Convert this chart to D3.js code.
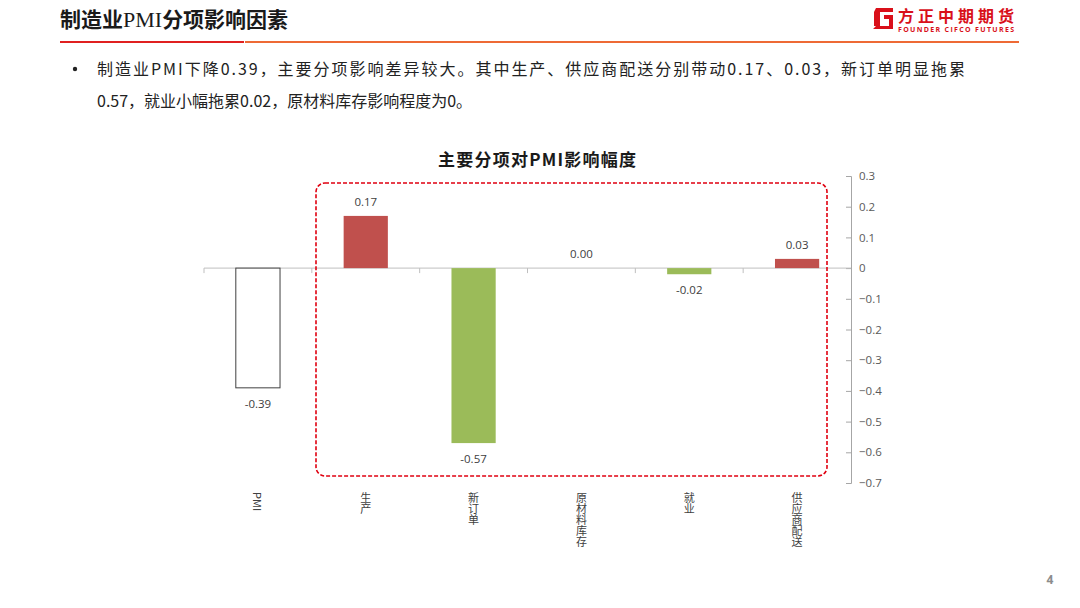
<!DOCTYPE html>
<html><head><meta charset="utf-8">
<script src="https://cdn.jsdelivr.net/npm/d3@7/dist/d3.min.js"></script>
<style>body{margin:0;background:#fff}svg{display:block}</style>
</head><body>
<svg id="c" width="1080" height="608"></svg>
<script>
const categories = ["PMI","生产","新订单","原材料库存","就业","供应商配送"];
const values = [-0.39, 0.17, -0.57, 0.00, -0.02, 0.03];
const valueLabels = ["-0.39","0.17","-0.57","0.00","-0.02","0.03"];
const yTicks = [0.3,0.2,0.1,0,-0.1,-0.2,-0.3,-0.4,-0.5,-0.6,-0.7];
const barKind = ["total","pos","neg","zero","neg","pos"];

const svg = d3.select("#c");
const F = "'Noto Sans CJK SC','Microsoft YaHei',sans-serif";

// header
svg.append("text").attr("x",60).attr("y",27).attr("font-family",F).attr("font-weight","bold")
  .attr("font-size",21).attr("fill","#1a1a1a")
  .call(t=>{t.append("tspan").text("制造业");
            t.append("tspan").attr("font-family","'Liberation Serif',serif").attr("font-weight","normal").attr("font-size",22).text("PMI");
            t.append("tspan").text("分项影响因素");});
svg.append("line").attr("x1",60).attr("x2",244).attr("y1",42).attr("y2",42).attr("stroke","#e02020").attr("stroke-width",2);
svg.append("line").attr("x1",245).attr("x2",1019).attr("y1",42).attr("y2",42).attr("stroke","#ee6a35").attr("stroke-width",2);

// logo
const lg = svg.append("g").attr("fill","#d9101a");
lg.append("path").attr("d","M876,8 L893,8 L893,12 L880,12 L880,26 L874,26 L874,12 Z");
lg.append("path").attr("d","M884,15 L893,15 L893,29 L873,29 L876,26 L889,26 L889,19 L884,19 Z");
lg.append("text").attr("x",898).attr("y",22).attr("font-family",F).attr("font-weight","bold").attr("font-size",16)
  .attr("textLength",116).text("方正中期期货");
lg.append("text").attr("x",898).attr("y",32).attr("font-family","'Open Sans',sans-serif").attr("font-weight","bold").attr("font-size",7)
  .attr("textLength",116).text("FOUNDER CIFCO FUTURES");

// bullet text
svg.append("circle").attr("cx",75).attr("cy",69).attr("r",2.2).attr("fill","#222");
svg.append("text").attr("x",97).attr("y",75).attr("font-family",F).attr("font-size",16).attr("fill","#222")
  .attr("textLength",868).attr("lengthAdjust","spacing")
  .text("制造业PMI下降0.39，主要分项影响差异较大。其中生产、供应商配送分别带动0.17、0.03，新订单明显拖累");
svg.append("text").attr("x",97).attr("y",107).attr("font-family",F).attr("font-size",16).attr("fill","#222")
  .text("0.57，就业小幅拖累0.02，原材料库存影响程度为0。");

// chart title
svg.append("text").attr("x",537).attr("y",166).attr("text-anchor","middle").attr("font-family",F)
  .attr("font-weight","bold").attr("font-size",17).attr("fill","#1a1a1a")
  .attr("textLength",198).text("主要分项对PMI影响幅度");

// scales
const x = d3.scaleBand().domain(categories).range([204,851]).paddingInner(0.59).paddingOuter(0.295);
const y = d3.scaleLinear().domain([-0.7,0.3]).range([483,176]);

// right axis
const ay = svg.append("g").attr("transform","translate(851,0)")
  .call(d3.axisLeft(y).tickValues(yTicks).tickSize(5).tickFormat(d=>d===0?"0":d3.format(".1f")(d)));
ay.select(".domain").attr("stroke","#a6a6a6");
ay.selectAll(".tick line").attr("stroke","#a6a6a6");
ay.selectAll(".tick text").attr("x",8).attr("text-anchor","start").attr("font-family","'Open Sans',sans-serif")
  .attr("font-size",11.5).attr("fill","#595959");

// category axis at zero
const xb = d3.scaleLinear().domain([0,categories.length]).range([204,851]);
svg.append("line").attr("x1",204).attr("x2",851).attr("y1",y(0)).attr("y2",y(0)).attr("stroke","#bfbfbf");
svg.append("g").selectAll("line").data(d3.range(categories.length)).join("line")
  .attr("x1",d=>xb(d)).attr("x2",d=>xb(d)).attr("y1",y(0)).attr("y2",y(0)+5).attr("stroke","#bfbfbf");

// bars
const fillOf = k => k==="total" ? "#ffffff" : k==="pos" ? "#c0504d" : k==="neg" ? "#9bbb59" : "none";
svg.append("g").selectAll("rect").data(values).join("rect")
  .attr("x",(d,i)=>x(categories[i])).attr("width",x.bandwidth())
  .attr("y",d=>y(Math.max(0,d))).attr("height",d=>Math.abs(y(d)-y(0)))
  .attr("fill",(d,i)=>fillOf(barKind[i]))
  .attr("stroke",(d,i)=>barKind[i]==="total"?"#404040":"none").attr("stroke-width",1);

// value labels
svg.append("g").selectAll("text").data(values).join("text")
  .attr("x",(d,i)=>x(categories[i])+x.bandwidth()/2)
  .attr("y",d=> d>=0 ? y(d)-10 : y(d)+20)
  .attr("text-anchor","middle").attr("font-family","'Open Sans',sans-serif").attr("font-size",11.5).attr("fill","#404040")
  .text((d,i)=>valueLabels[i]);

// category labels (vertical)
svg.append("g").selectAll("text").data(categories).join("text")
  .attr("x",d=>x(d)+x.bandwidth()/2).attr("y",492)
  .attr("writing-mode","tb").style("writing-mode","vertical-rl")
  .attr("font-family",F).attr("font-size",11).attr("fill","#404040")
  .text(d=>d);

// dashed highlight box
svg.append("rect").attr("x",316).attr("y",183).attr("width",511).attr("height",293).attr("rx",9)
  .attr("fill","none").attr("stroke","#e00010").attr("stroke-width",1.6).attr("stroke-dasharray","4,2");

// page number
svg.append("text").attr("x",1050).attr("y",584).attr("text-anchor","middle").attr("font-family","'Open Sans',sans-serif")
  .attr("font-weight","bold").attr("font-size",12).attr("fill","#8c8c8c").text("4");
</script>
</body></html>
